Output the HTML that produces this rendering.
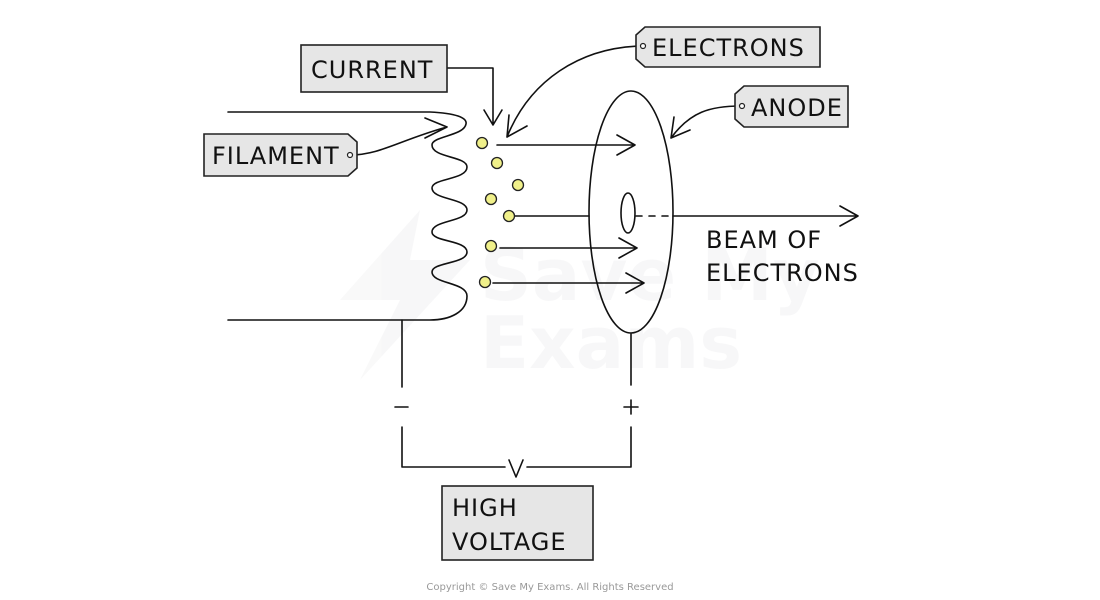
<!DOCTYPE html>
<html><head><meta charset="utf-8"><style>
html,body{margin:0;padding:0;background:#fff;}
svg{display:block;}
text{font-family:"DejaVu Sans","Liberation Sans",sans-serif;fill:#111;}
</style></head><body>
<svg width="1100" height="600" viewBox="0 0 1100 600" xmlns="http://www.w3.org/2000/svg">
<g opacity="0.03" fill="#334">
<polygon points="420,210 340,300 400,300 360,380 470,260 410,260"/>
<text x="480" y="300" font-size="72" font-weight="bold" style="fill:#334">Save My</text>
<text x="480" y="368" font-size="72" font-weight="bold" style="fill:#334">Exams</text>
</g>
<g fill="none" stroke="#111" stroke-width="1.6" stroke-linecap="round" stroke-linejoin="round">
<path d="M228,112 L430,112 Q468,114 466,124 C464,136 432,136 432,145 C432,158 467,156 467,167 C467,180 432,178 432,188 C432,200 467,198 467,210 C467,222 432,220 432,232 C432,242 467,240 467,252 C467,264 432,262 432,272 C432,284 467,282 467,296 C467,312 450,320 430,320 L228,320"/>
<path d="M402,320 L402,387 M402,427 L402,467 L505,467 M527,467 L631,467 L631,427 M631,385 L631,334"/>
<path d="M509,460 L516,477 L523,460"/>
<path d="M395,407 L408,407 M624,407 L638,407 M631,400 L631,414"/>
<ellipse cx="631" cy="212" rx="42" ry="121"/>
<ellipse cx="628" cy="213" rx="7" ry="20"/>
<path d="M497,145 L635,145 M617,135 L635,145 L617,155"/>
<path d="M515,216 L589,216 M673,216 L858,216 M840,206 L858,216 L840,226"/>
<path d="M636,216 L642,216 M649,216 L655,216 M662,216 L668,216" />
<path d="M500,248 L637,248 M619,238 L637,248 L619,258"/>
<path d="M493,283 L644,283 M626,273 L644,283 L626,293"/>
<path d="M447,68 L493,68 L493,125 M484,110 L493,125 L502,110"/>
<path d="M640,46 C580,48 530,80 507,137 M509,115 L507,137 L527,126"/>
<path d="M741,106 C710,106 690,112 671,138 M674,117 L671,138 L690,130"/>
<path d="M350,155 C380,155 400,140 447,127 M425,118 L447,127 L425,138"/>
</g>
<g fill="#f0f08a" stroke="#222" stroke-width="1.3">
<circle cx="482" cy="143" r="5.5"/><circle cx="497" cy="163" r="5.5"/>
<circle cx="518" cy="185" r="5.5"/><circle cx="491" cy="199" r="5.5"/>
<circle cx="509" cy="216" r="5.5"/><circle cx="491" cy="246" r="5.5"/>
<circle cx="485" cy="282" r="5.5"/>
</g>
<g fill="#e6e6e6" stroke="#222" stroke-width="1.6">
<rect x="301" y="45" width="146" height="47"/>
<path d="M204,134 L348,134 L357,142 L357,168 L348,176 L204,176 Z"/>
<path d="M645,27 L820,27 L820,67 L645,67 L636,59 L636,35 Z"/>
<path d="M744,86 L848,86 L848,127 L744,127 L735,119 L735,94 Z"/>
<rect x="442" y="486" width="151" height="74"/>
</g>
<g fill="#fff" stroke="#222" stroke-width="1.2">
<circle cx="350" cy="155" r="2.5"/><circle cx="643" cy="46" r="2.5"/><circle cx="742" cy="106" r="2.5"/>
</g>
<g font-size="24" letter-spacing="1">
<text x="311" y="78">CURRENT</text>
<text x="212" y="164">FILAMENT</text>
<text x="652" y="56">ELECTRONS</text>
<text x="751" y="116">ANODE</text>
<text x="706" y="248">BEAM OF</text>
<text x="706" y="281">ELECTRONS</text>
<text x="452" y="516">HIGH</text>
<text x="452" y="550">VOLTAGE</text>
</g>
<text x="550" y="590" font-size="10" text-anchor="middle" style="fill:#999">Copyright © Save My Exams. All Rights Reserved</text>
</svg>
</body></html>
